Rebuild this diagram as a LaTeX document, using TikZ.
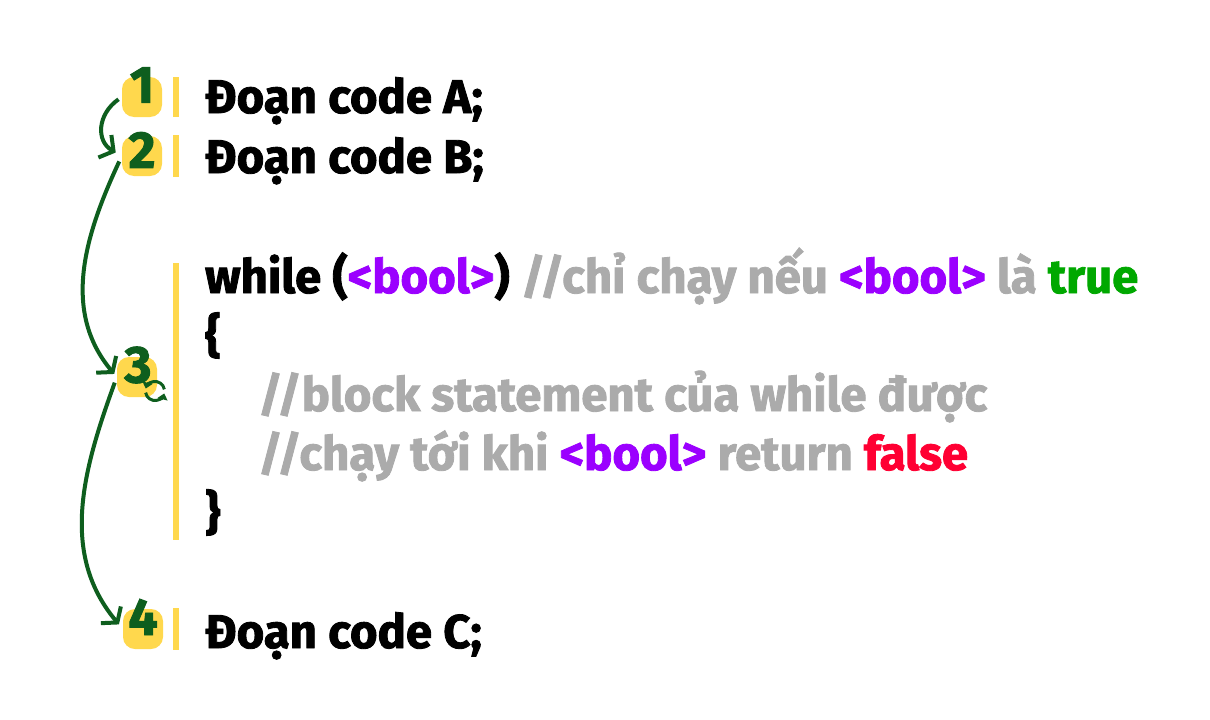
\documentclass[tikz,border=0pt]{standalone}
\usepackage{fontspec}
\usetikzlibrary{arrows.meta,calc}
\newfontfamily\codefont[FakeBold=1.8]{Fira Sans}
\definecolor{cblack}{HTML}{000000}
\definecolor{cpurple}{HTML}{9B00FF}
\definecolor{cgray}{HTML}{ABABAB}
\definecolor{cgreen}{HTML}{00A800}
\definecolor{cred}{HTML}{FF0033}
\definecolor{cyellow}{HTML}{FFD84D}
\definecolor{cdark}{HTML}{0E5E1E}
\begin{document}
\begin{tikzpicture}[x=1pt,y=-1pt,
  codeline/.style={anchor=base west,inner sep=0pt,font=\codefont\bfseries\fontsize{47.3}{47.3}\selectfont},
  badge/.style={fill=cyellow,rounded corners=12pt,minimum width=40pt,minimum height=40pt,inner sep=0pt},
  digit/.style={text=cdark,inner sep=0pt,font=\codefont\bfseries\fontsize{52}{52}\selectfont},
  bar/.style={fill=cyellow,draw=none},
  flow/.style={draw=cdark,line width=4pt,-{Straight Barb[length=10pt,width=26pt]}},
  spin/.style={draw=cdark,line width=3pt,-{Triangle[length=6pt,width=10pt]}}]
\useasboundingbox[fill=white] (0,0) rectangle (1210,720);
% badges
\node[badge] (b1) at (142,97) {};
\node[badge] (b2) at (142,156) {};
\node[badge] (b3) at (137,377) {};
\node[badge] (b4) at (143,629) {};
\node[digit] (d1) at (142,85) {1};
\node[digit] (d2) at (142,150) {2};
\node[digit] (d3) at (138,365) {3};
\node[digit] (d4) at (143,617) {4};
% bars
\fill[bar] (173,77) rectangle (179,117);
\fill[bar] (173,135) rectangle (179,177);
\fill[bar] (173,263) rectangle (179,540);
\fill[bar] (173,608) rectangle (179,650);
% refresh icon
\coordinate (ic) at (155,391);
\draw[spin] (ic) ++(10:9.5pt) arc[start angle=10,end angle=165,radius=9.5pt];
\draw[spin] (ic) ++(190:9.5pt) arc[start angle=190,end angle=345,radius=9.5pt];
% code lines
\node[codeline] (la) at (205,113) {Đoạn code A;};
\node[codeline] (lb) at (205,173) {Đoạn code B;};
\node[codeline] (lw) at (205,293) {while (\textcolor{cpurple}{<bool>}) \textcolor{cgray}{//chỉ chạy nếu} \textcolor{cpurple}{<bool>} \textcolor{cgray}{là} \textcolor{cgreen}{true}};
\node[codeline] (lo) at (205,352) {\{};
\node[codeline,text=cgray] (lc1) at (258,411) {//block statement của while được};
\node[codeline,text=cgray] (lc2) at (258,470) {//chạy tới khi \textcolor{cpurple}{<bool>} return \textcolor{cred}{false}};
\node[codeline] (lcl) at (205,529) {\}};
\node[codeline] (lc) at (205,648) {Đoạn code C;};
% flow arrows
\draw[flow,shorten <=4pt,shorten >=7pt] (b1.west) to[out=215,in=150,looseness=1.3] (b2.west);
\draw[flow,shorten <=6pt,shorten >=4pt] (b2.west) to[out=245,in=130] (b3.west);
\draw[flow,shorten <=6pt,shorten >=6pt] (b3.west) to[out=250,in=130] (b4.west);
\end{tikzpicture}
\end{document}
